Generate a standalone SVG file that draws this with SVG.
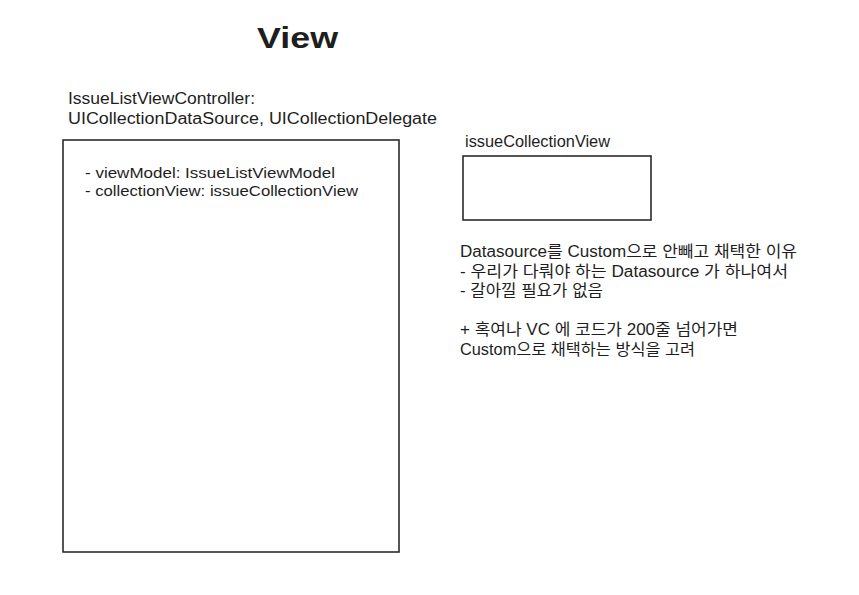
<svg xmlns="http://www.w3.org/2000/svg" width="859" height="595" viewBox="0 0 859 595">
<style>
.box{fill:#ffffff;stroke:#2b2b2b;stroke-width:1.6}
.t{font-family:"Liberation Sans","Noto Sans CJK KR",sans-serif;font-size:16px;fill:#1e1e1e}
.s{font-size:14px}
.title{font-family:"Liberation Sans",sans-serif;font-size:30px;font-weight:bold;fill:#1e1e1e}
</style>
<rect width="859" height="595" fill="#ffffff"/>
<text class="title" x="257" y="48" textLength="81" lengthAdjust="spacingAndGlyphs">View</text>
<g id="issue-list-view-controller">
<text class="t" x="68" y="104" textLength="187" lengthAdjust="spacingAndGlyphs">IssueListViewController:</text>
<text class="t" x="68" y="124" textLength="369" lengthAdjust="spacingAndGlyphs">UICollectionDataSource, UICollectionDelegate</text>
<rect class="box" x="63" y="140" width="336" height="412"/>
<text class="t s" x="85" y="178" textLength="250" lengthAdjust="spacingAndGlyphs">- viewModel: IssueListViewModel</text>
<text class="t s" x="85" y="196" textLength="273" lengthAdjust="spacingAndGlyphs">- collectionView: issueCollectionView</text>
</g>
<g id="issue-collection-view">
<text class="t" x="465" y="147" textLength="145" lengthAdjust="spacingAndGlyphs">issueCollectionView</text>
<rect class="box" x="463" y="156" width="188" height="64"/>
</g>
<g id="note">
<text class="t" x="460" y="257" textLength="337" lengthAdjust="spacingAndGlyphs">Datasource를 Custom으로 안빼고 채택한 이유</text>
<text class="t" x="460" y="276.5" textLength="328" lengthAdjust="spacingAndGlyphs">- 우리가 다뤄야 하는 Datasource 가 하나여서</text>
<text class="t" x="460" y="296" textLength="143" lengthAdjust="spacingAndGlyphs">- 갈아낄 필요가 없음</text>
<text class="t" x="460" y="335" textLength="278" lengthAdjust="spacingAndGlyphs">+ 혹여나 VC 에 코드가 200줄 넘어가면</text>
<text class="t" x="460" y="355" textLength="235" lengthAdjust="spacingAndGlyphs">Custom으로 채택하는 방식을 고려</text>
</g>
<g id="connectors"></g>
</svg>
